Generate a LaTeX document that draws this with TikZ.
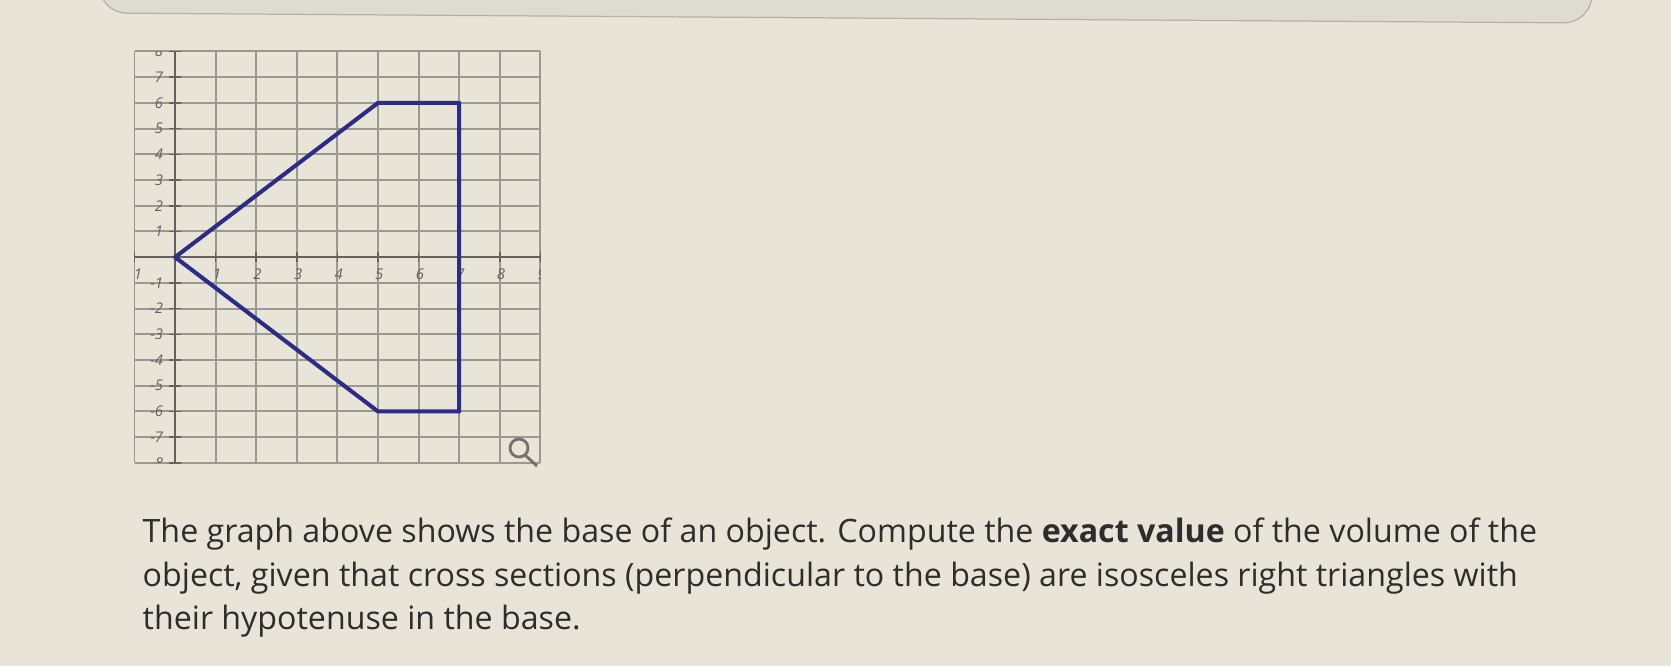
\documentclass[tikz,border=0pt]{standalone}
\usepackage{fontspec}
\setmainfont{Open Sans}
\usepackage{tikz}
\usepackage{xcolor}
\usetikzlibrary{calc, positioning}

\definecolor{paper}{RGB}{232,228,215}
\definecolor{barfill}{RGB}{222,219,211}
\definecolor{barline}{RGB}{180,177,170}
\definecolor{gridgrey}{RGB}{155,151,145}
\definecolor{axisgrey}{RGB}{100,97,93}
\definecolor{basenavy}{RGB}{42,44,135}
\definecolor{inkgrey}{RGB}{45,45,45}

\tikzset{
    gridline/.style={gridgrey, line width=0.55pt},
    axisline/.style={axisgrey, line width=0.65pt},
    ticklabel/.style={inner sep=0pt, axisgrey, font=\fontsize{4.2}{5}\selectfont\rmfamily\itshape},
    baseline/.style={basenavy, line width=1.15pt, line join=round},
    textline/.style={anchor=base west, inner sep=0pt, inkgrey, font=\fontsize{9.15}{12}\selectfont}
}

\begin{document}
\begin{tikzpicture}[x=0.01cm, y=-0.01cm]
                        \useasboundingbox (0, 0) rectangle (1671, 666);
                        \fill[paper] (0, 0) rectangle (1671, 666);
                        % top bar of the page
                        \filldraw[fill=barfill, draw=barline, line width=0.35pt, rounded corners=8]
                        (99, -12) -- (99, 13) -- (1592, 23) -- (1592, -12);
                        % the graph
                        \begin{scope}[xshift=1.75cm, yshift=-2.57cm, x=0.4056cm, y=0.257cm]
                        \foreach \i in {-1,...,9} {
                            \draw[gridline] (\i, -8) -- (\i, 8);
                        }
                        \foreach \j in {-8,...,8} {
                            \draw[gridline] (-1, \j) -- (9, \j);
                        }
                        \draw[axisline]
                        (-1, 0) -- (9, 0)
                        (0, -8) -- (0, 8);
                        \foreach \j in {-8,...,8} {
                            \draw[axisline, line width=0.45pt] (-0.15, \j) -- (0.15, \j);
                        }
                        \foreach \i in {-1,...,9} {
                            \draw[axisline, line width=0.45pt] (\i, -0.2) -- (\i, 0.2);
                        }
                        \begin{scope}
                        \clip (-1, -8) rectangle (9, 8);
                        \foreach \i in {-1,1,2,3,4,5,6,7,8,9} {
                            \node[ticklabel] (xl\i) at (\i + 0.03, -0.68) {\i};
                        }
                        \foreach \j in {-8,...,-1,1,2,...,8} {
                            \node[ticklabel, anchor=east] (yl\j) at (-0.28, \j) {\j};
                        }
                        \end{scope}
                        \draw[baseline] (0, 0) -- (5, 6) -- (7, 6) -- (7, -6) -- (5, -6) -- cycle;
                        \end{scope}
                        % zoom icon
                        \draw[axisgrey!90, line width=0.8pt]
                        (519, 448) circle (9)
                        (525, 455) -- (537, 466);
                        % question text
                        \node[textline] (line1) at (142, 542)
                        {The graph above shows the base of an object. Compute the \textbf{exact value} of the volume of the};
                        \node[textline] (line2) at (142, 586)
                        {object, given that cross sections (perpendicular to the base) are isosceles right triangles with};
                        \node[textline] (line3) at (142, 629)
                        {their hypotenuse in the base.};
                    \end{tikzpicture}
\end{document}
